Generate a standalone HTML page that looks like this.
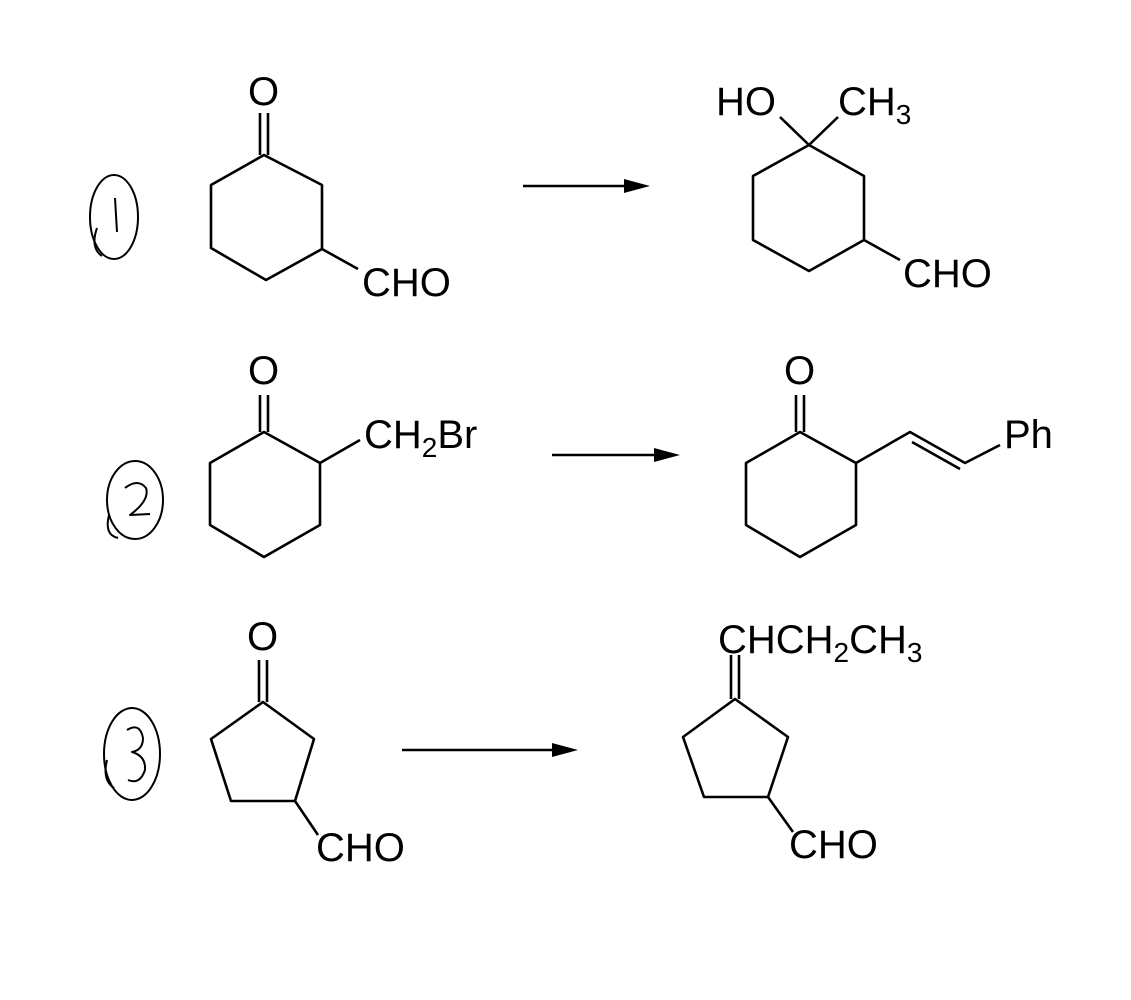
<!DOCTYPE html>
<html><head><style>body{margin:0;background:#fff}svg{display:block}text{font-family:"Liberation Sans",Arial,sans-serif;font-size:40px;fill:#000}</style></head>
<body>
<svg width="1131" height="1000" viewBox="0 0 1131 1000" xmlns="http://www.w3.org/2000/svg">
<g stroke="#000" stroke-width="2.6" fill="none" stroke-linejoin="round">
<ellipse cx="114" cy="217" rx="24" ry="42" stroke-width="2"/>
<path d="M97 228 Q90 248 102 256" stroke-width="2"/>
<path d="M115 198 L117 232" stroke-width="2"/>
<ellipse cx="135" cy="500" rx="28" ry="39" stroke-width="2"/>
<path d="M109 515 Q104 535 118 538" stroke-width="2"/>
<path d="M125 488 Q138 478 146 488 Q150 500 130 515 L150 514" stroke-width="2"/>
<ellipse cx="132" cy="754" rx="28" ry="46" stroke-width="2"/>
<path d="M107 760 Q102 780 114 788" stroke-width="2"/>
<path d="M127 730 Q140 722 143 738 Q143 750 132 752 Q146 756 145 770 Q140 785 128 780" stroke-width="2"/>
<path d="M264 155 L211 185 L211 248 L266 280 L322 249 L322 185 Z"/>
<path d="M322 249 L358 269"/>
<path d="M260 113 L260 155 M268 113 L268 155"/>
<path d="M523 186 L635 186"/>
<path d="M809 145 L753 176 L753 240 L809 271 L864 240 L864 176 Z"/>
<path d="M809 145 L780 117 M809 145 L838 117 M864 240 L900 260"/>
<path d="M264 432 L320 463 L320 525 L264 557 L210 525 L210 463 Z"/>
<path d="M260 395 L260 432 M268 395 L268 432"/>
<path d="M320 463 L360 440"/>
<path d="M552 455 L665 455"/>
<path d="M800 432 L856 463 L856 525 L800 557 L746 525 L746 463 Z"/>
<path d="M796 395 L796 432 M804 395 L804 432"/>
<path d="M856 463 L910 432 L965 463 L1000 445"/>
<path d="M912 442 L960 469"/>
<path d="M263 702 L314 739 L295 801 L231 801 L211 739 Z"/>
<path d="M259 660 L259 702 M267 660 L267 702"/>
<path d="M295 801 L318 835"/>
<path d="M402 750 L562 750"/>
<path d="M735 699 L788 737 L768 797 L704 797 L683 737 Z"/>
<path d="M731 655 L731 699 M739 655 L739 699"/>
<path d="M768 797 L793 832"/>
</g>
<g fill="#000">
<polygon points="650,186 624,179 624,193"/>
<polygon points="680,455 654,448 654,462"/>
<polygon points="578,750 552,743 552,757"/>
</g>
<text x="248" y="105">O</text>
<text x="362" y="296">CHO</text>
<text x="716" y="115">HO</text>
<text x="838" y="115">CH<tspan font-size="28" dy="9">3</tspan></text>
<text x="903" y="287">CHO</text>
<text x="248" y="384">O</text>
<text x="364" y="448">CH<tspan font-size="28" dy="9">2</tspan><tspan dy="-9">Br</tspan></text>
<text x="784" y="384">O</text>
<text x="1004" y="448">Ph</text>
<text x="247" y="650">O</text>
<text x="316" y="861">CHO</text>
<text x="718" y="653">CHCH<tspan font-size="28" dy="9">2</tspan><tspan dy="-9">CH</tspan><tspan font-size="28" dy="9">3</tspan></text>
<text x="789" y="858">CHO</text>
</svg>
</body></html>
